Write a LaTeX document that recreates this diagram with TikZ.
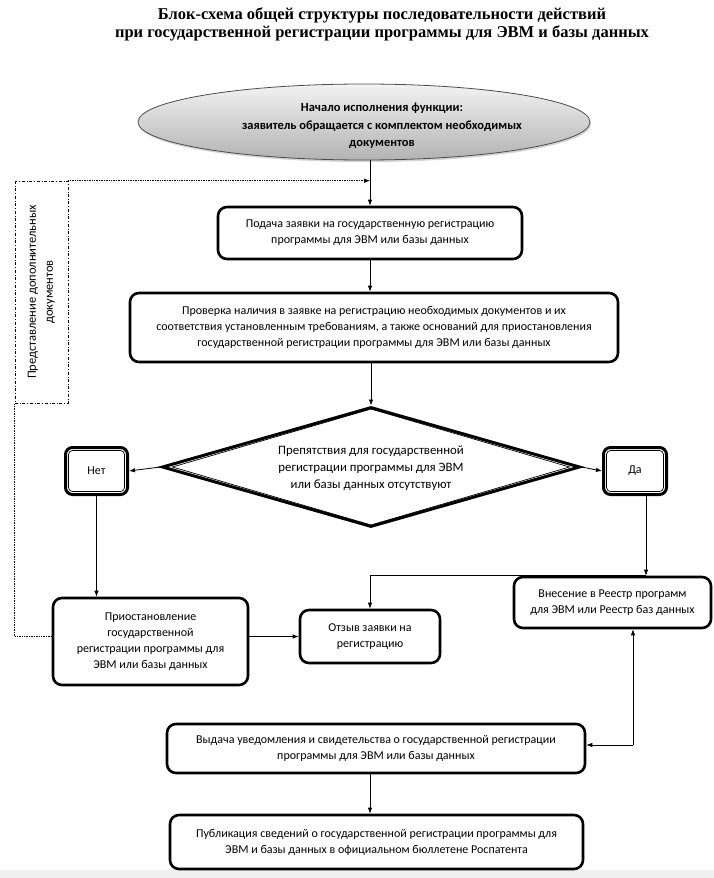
\documentclass[tikz,border=0pt]{standalone}
\usepackage{fontspec}
\setmainfont{Liberation Serif}
\newfontfamily\bodyfont{Carlito}
\usetikzlibrary{shapes.geometric,arrows.meta,calc,shadows}
\begin{document}
\begin{tikzpicture}[x=1pt,y=-1pt,
  every node/.style={inner sep=0pt},
  txt/.style={font=\bodyfont\fontsize{12}{16}\selectfont, align=center},
  box/.style={draw, line width=2.6pt, rounded corners=9pt, fill=white, txt},
  dbox/.style={draw, line width=3pt, rounded corners=7pt, fill=white, txt},
  arr/.style={-{Latex[length=6pt,width=4.5pt]}, line width=0.8pt},
  fb/.style={densely dotted, line width=0.7pt},
]
\useasboundingbox (0,0) rectangle (714,878);
\fill[black!6] (0,870) rectangle (714,878);

% title
\node[font=\bfseries\fontsize{16.5}{18}\selectfont, align=center] (title) at (382,24)
  {Блок-схема общей структуры последовательности действий\\
   при государственной регистрации программы для ЭВМ и базы данных};

% start ellipse
\node[ellipse, draw=black!70, line width=0.8pt, top color=black!5, bottom color=black!30,
      drop shadow={shadow xshift=1pt, shadow yshift=-2pt, opacity=0.35},
      minimum width=452, minimum height=76] (start) at (364,122) {};
\node[txt, font=\bodyfont\bfseries\fontsize{12.5}{17.5}\selectfont] (starttext) at (382,126)
  {Начало исполнения функции:\\заявитель обращается с комплектом необходимых\\документов};

% boxes
\node[box, minimum width=304, minimum height=52] (b1) at (370,233)
  {Подача заявки на государственную регистрацию\\программы для ЭВМ или базы данных};
\node[box, minimum width=488, minimum height=69] (b2) at (374,327.5)
  {Проверка наличия в заявке на регистрацию необходимых документов и их\\
   соответствия установленным требованиям, а также оснований для приостановления\\
   государственной регистрации программы для ЭВМ или базы данных};

% decision diamond
\node[diamond, draw, line width=3pt, fill=white, minimum width=418, minimum height=120] (dia) at (371,467) {};
\draw[line width=0.7pt] ($(dia.west)+(12,0)$) -- ($(dia.north)+(0,3.5)$) -- ($(dia.east)+(-12,0)$)
  -- ($(dia.south)+(0,-3.5)$) -- cycle;
\node[align=center, font=\bodyfont\fontsize{12.8}{17}\selectfont] (diatext) at (371,468)
  {Препятствия для государственной\\регистрации программы для ЭВМ\\или базы данных отсутствуют};

% Нет / Да
\node[dbox, minimum width=62, minimum height=47] (net) at (96.5,471) {};
\draw[line width=0.7pt, rounded corners=4pt] ($(net.south west)+(4.5,-4.5)$) rectangle ($(net.north east)+(-4.5,4.5)$);
\node[txt] (nettext) at (net) {Нет};
\node[dbox, minimum width=63, minimum height=47] (da) at (635,471) {};
\draw[line width=0.7pt, rounded corners=4pt] ($(da.south west)+(4.5,-4.5)$) rectangle ($(da.north east)+(-4.5,4.5)$);
\node[txt] (datext) at (da) {Да};

% lower boxes
\node[box, minimum width=195, minimum height=87] (prio) at (150.5,641.5)
  {Приостановление\\государственной\\регистрации программы для\\ЭВМ или базы данных};
\node[box, minimum width=140, minimum height=53] (otz) at (370,636.5)
  {Отзыв заявки на\\регистрацию};
\node[box, minimum width=197, minimum height=51] (vnes) at (612.5,602.5)
  {Внесение в Реестр программ\\для ЭВМ или Реестр баз данных};
\node[box, minimum width=418, minimum height=49] (vyd) at (376,748.5)
  {Выдача уведомления и свидетельства о государственной регистрации\\программы для ЭВМ или базы данных};
\node[box, minimum width=413, minimum height=54] (pub) at (376.5,842)
  {Публикация сведений о государственной регистрации программы для\\ЭВМ и базы данных в официальном бюллетене Роспатента};

% side note
\node[draw, dash dot, line width=0.6pt, rotate=90, minimum width=222, minimum height=53,
      txt, font=\bodyfont\fontsize{12.5}{17}\selectfont] (extra) at (41.5,292)
  {Представление дополнительных\\документов};

% connectors
\draw[arr] (b1.north |- start.south) -- (b1.north);
\draw[arr] (b1.south) -- (b1.south |- b2.north);
\draw[arr] (dia.north |- b2.south) -- (dia.north);
\draw[arr] (dia.west) -- (net.east);
\draw[arr] (dia.east) -- (da.west);
\draw[arr] (net.south) -- (net.south |- prio.north);
\draw[arr] (otz.west -| prio.east) -- (otz.west);
\coordinate (dadown) at ($(da.south)+(11,0)$);
\coordinate (split) at ($(dadown)+(0,79)$);
\draw[arr] (dadown) -- (dadown |- vnes.north);
\draw[arr] (split) -| (otz.north);
\coordinate (ret) at (633,745);
\draw[arr] (ret) -- (ret -| vyd.east);
\draw[arr] (ret) -- (ret |- vnes.south);
\draw[arr] (vyd.south -| b1.south) -- (b1.south |- pub.north);

% feedback (dotted)
\draw[fb] (prio.west |- otz.west) -- (extra.north west |- otz.west) -- (extra.north west);
\draw[fb, -{Latex[length=6pt,width=4.5pt]}] (extra.south east) -- (extra.south east -| b1.north);
\end{tikzpicture}
\end{document}
